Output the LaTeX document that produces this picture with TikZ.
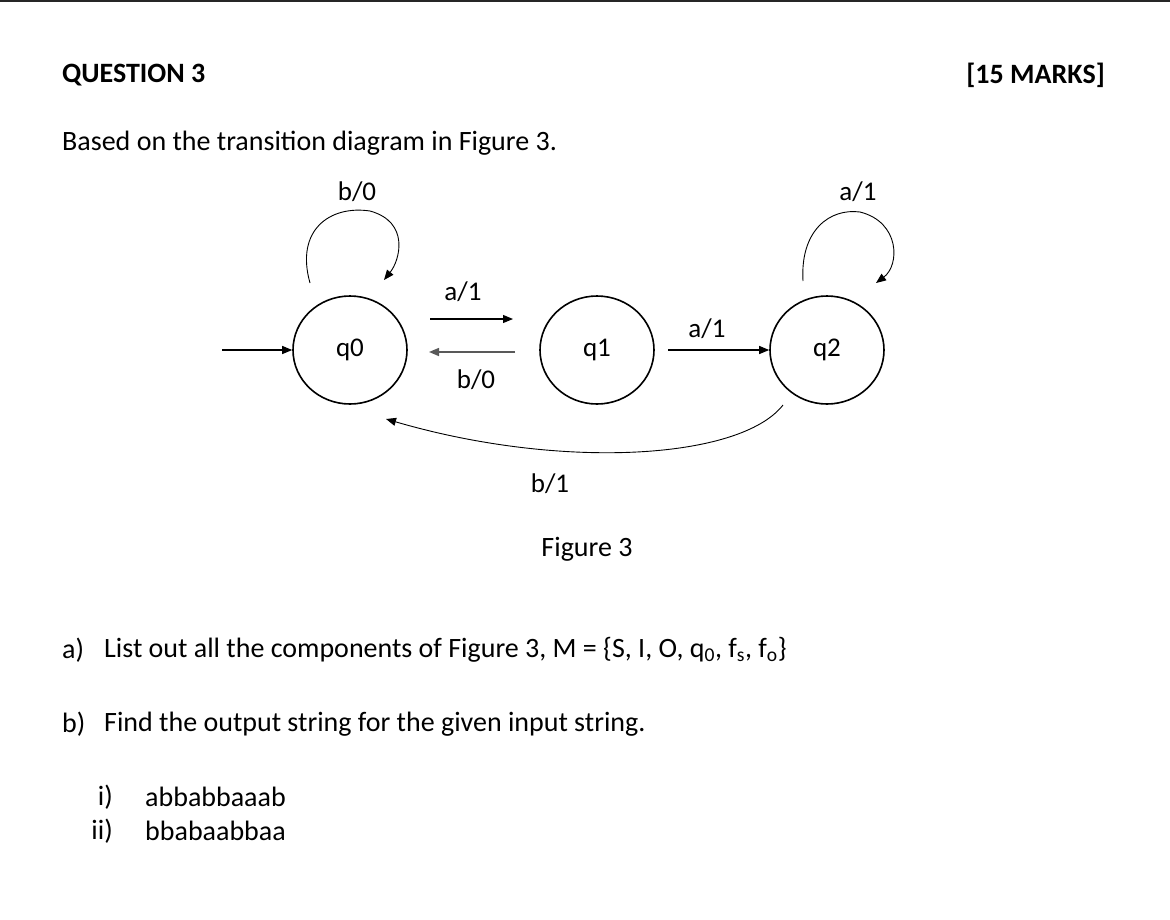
\documentclass[tikz,border=0pt]{standalone}
\usepackage{fontspec}
\setmainfont{Carlito}
\usetikzlibrary{arrows.meta,shapes.geometric}
\begin{document}
\begin{tikzpicture}[x=1pt,y=-1pt,
  txt/.style={anchor=west,inner sep=0pt,font=\fontsize{28}{32}\selectfont},
  lbl/.style={inner sep=0pt,font=\fontsize{27}{32}\selectfont},
  st/.style={draw,line width=1.6pt,ellipse,minimum width=114pt,minimum height=108pt,font=\fontsize{27}{32}\selectfont},
  tr/.style={-{Triangle[length=10pt,width=8pt]},line width=1.1pt}]
\useasboundingbox (0,0) rectangle (1170,919);
\fill[white] (0,0) rectangle (1170,919);
\draw[line width=2pt,black!85] (0,1) -- (1170,1);
\node[txt,font=\fontsize{28}{32}\selectfont\bfseries] (qn) at (62,75) {QUESTION 3};
\node[lbl,anchor=east,font=\fontsize{28}{32}\selectfont\bfseries] (mk) at (1105,75) {[15 MARKS]};
\node[txt] (intro) at (62,143) {Based on the transition diagram in Figure 3.};
\node[st] (q0) at (350,350) {q0};
\node[st] (q1) at (597,350) {q1};
\node[st] (q2) at (827,350) {q2};
\coordinate (init) at (222,350);
\draw[tr] (init) -- (q0);
\coordinate (a1s) at (430,319); \coordinate (a1e) at (513,319);
\draw[tr] (a1s) -- (a1e);
\node[lbl] (la1) at (463,292) {a/1};
\coordinate (b0s) at (515,352); \coordinate (b0e) at (429,352);
\draw[tr,black!65,line width=1.5pt] (b0s) -- (b0e);
\node[lbl] (lb0) at (476,380) {b/0};
\coordinate (a2s) at (668,350);
\draw[tr] (a2s) -- (q2);
\node[lbl] (la2) at (707,329) {a/1};
\coordinate (b1s) at (783,405); \coordinate (b1e) at (386,419);
\draw[tr,line width=0.9pt] (b1s) .. controls (740,460) and (560,470) .. (b1e);
\node[lbl] (lb1) at (550,484) {b/1};
\coordinate (l0s) at (310,283); \coordinate (l0e) at (384,280);
\draw[tr,line width=0.9pt] (l0s) .. controls (295,230) and (330,205) .. (370,211) .. controls (410,222) and (400,260) .. (l0e);
\node[lbl] (ll0) at (357,192) {b/0};
\coordinate (l2s) at (803,281); \coordinate (l2e) at (876,283);
\draw[tr,line width=0.9pt] (l2s) .. controls (800,230) and (830,208) .. (860,212) .. controls (900,222) and (900,265) .. (l2e);
\node[lbl] (ll2) at (858,192) {a/1};
\node[lbl,font=\fontsize{28}{32}\selectfont] (fig) at (587,549) {Figure 3};
\node[txt] (ra) at (62,650) {a)};
\node[txt] (qa) at (104,650) {List out all the components of Figure 3, M = \{S, I, O, q\textsubscript{0}, f\textsubscript{s}, f\textsubscript{o}\}};
\node[txt] (rb) at (62,724) {b)};
\node[txt] (qb) at (104,724) {Find the output string for the given input string.};
\node[txt,anchor=east] (ri) at (113,797) {i)};
\node[txt] (si) at (145,797) {abbabbaaab};
\node[txt,anchor=east] (rii) at (113,831) {ii)};
\node[txt] (sii) at (145,831) {bbabaabbaa};
\end{tikzpicture}
\end{document}
